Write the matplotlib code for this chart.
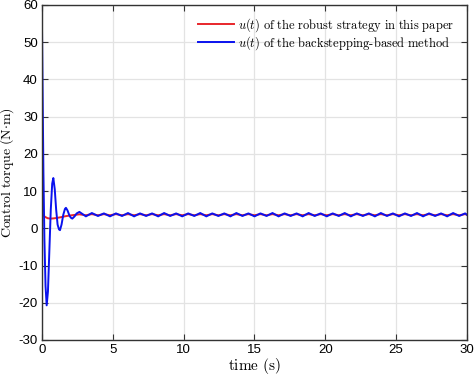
import matplotlib.pyplot as plt
import numpy as np

plt.rcParams['mathtext.fontset'] = 'cm'
plt.rcParams['font.family'] = ['Liberation Sans', 'DejaVu Sans']
plt.rcParams['axes.unicode_minus'] = False

# --- transient part (time s, torque N*m) ---
t_blue_start = [0.0, 0.04, 0.10, 0.17, 0.25, 0.33, 0.42, 0.52, 0.62, 0.72, 0.80, 0.90,
                1.00, 1.10, 1.20, 1.27, 1.38, 1.50, 1.62, 1.69, 1.80, 1.95, 2.05, 2.14,
                2.30, 2.45, 2.64]
u_blue_start = [54.0, 38.0, 15.0, -3.0, -15.5, -20.7, -17.0, -6.0, 5.0, 12.0, 13.5, 10.5,
                5.0, 1.0, -0.3, -0.5, 1.0, 3.6, 5.2, 5.5, 4.8, 3.3, 2.8, 2.6,
                3.2, 4.0, 4.4]

t_red_start = [0.0, 0.2, 0.4, 0.6, 0.8, 1.0, 1.3, 1.6, 1.9, 2.2, 2.64]
u_red_start = [3.9, 3.1, 2.7, 2.6, 2.65, 2.75, 2.95, 3.2, 3.4, 3.55, 3.75]

# --- steady ripple: extrema times and values ---
t_ripple = [3.10, 3.52, 3.95, 4.37, 4.80, 5.22, 5.65, 6.07, 6.50, 6.92, 7.35, 7.77,
            8.20, 8.62, 9.05, 9.47, 9.90, 10.32, 10.75, 11.17, 11.60, 12.02, 12.45,
            12.87, 13.30, 13.72, 14.15, 14.57, 15.00, 15.42, 15.85, 16.27, 16.70,
            17.12, 17.55, 17.97, 18.40, 18.82, 19.25, 19.67, 20.10, 20.52, 20.95,
            21.37, 21.80, 22.22, 22.65, 23.07, 23.50, 23.92, 24.35, 24.77, 25.20,
            25.62, 26.05, 26.47, 26.90, 27.32, 27.75, 28.17, 28.60, 29.02, 29.45,
            29.87, 30.0]
u_blue_ripple = [3.2, 4.1, 3.3, 4.0, 3.2, 4.0, 3.3, 4.1, 3.2, 4.0, 3.3, 4.0,
                 3.2, 4.1, 3.3, 4.0, 3.2, 4.0, 3.3, 4.1, 3.2, 4.0, 3.3, 4.0,
                 3.2, 4.1, 3.3, 4.0, 3.2, 4.0, 3.3, 4.1, 3.2, 4.0, 3.3, 4.0,
                 3.2, 4.1, 3.3, 4.0, 3.2, 4.0, 3.3, 4.1, 3.2, 4.0, 3.3, 4.0,
                 3.2, 4.1, 3.3, 4.0, 3.2, 4.0, 3.3, 4.1, 3.2, 4.0, 3.3, 4.0,
                 3.2, 4.1, 3.3, 4.0, 3.6]
u_red_ripple = [3.5, 3.8, 3.5, 3.8, 3.5, 3.8, 3.5, 3.8, 3.5, 3.8, 3.5, 3.8,
                3.5, 3.8, 3.5, 3.8, 3.5, 3.8, 3.5, 3.8, 3.5, 3.8, 3.5, 3.8,
                3.5, 3.8, 3.5, 3.8, 3.5, 3.8, 3.5, 3.8, 3.5, 3.8, 3.5, 3.8,
                3.5, 3.8, 3.5, 3.8, 3.5, 3.8, 3.5, 3.8, 3.5, 3.8, 3.5, 3.8,
                3.5, 3.8, 3.5, 3.8, 3.5, 3.8, 3.5, 3.8, 3.5, 3.8, 3.5, 3.8,
                3.5, 3.8, 3.5, 3.8, 3.65]

t_blue = np.array(t_blue_start + t_ripple)
u_blue = np.array(u_blue_start + u_blue_ripple)
t_red = np.array(t_red_start + t_ripple)
u_red = np.array(u_red_start + u_red_ripple)

fig = plt.figure(figsize=(4.74, 3.79), dpi=100)
ax = fig.add_axes([0.0886, 0.103, 0.8966, 0.884])

ax.plot(t_red, u_red, color='#e8262b', linewidth=1.4,
        label=r'$u(t)\ \mathrm{of\ the\ robust\ strategy\ in\ this\ paper}$')
ax.plot(t_blue, u_blue, color='#0a12ee', linewidth=1.4,
        label=r'$u(t)\ \mathrm{of\ the\ backstepping\text{-}based\ method}$')

ax.set_xlim(0, 30)
ax.set_ylim(-30, 60)
ax.set_xticks([0, 5, 10, 15, 20, 25, 30])
ax.set_yticks([-30, -20, -10, 0, 10, 20, 30, 40, 50, 60])
ax.grid(True, color='#e3e3e3', linewidth=0.9)
ax.tick_params(direction='in', top=True, right=True, labelsize=9.5, length=4,
               color='#333333', pad=3)
for s in ax.spines.values():
    s.set_color('#333333')
    s.set_linewidth(1.0)

ax.set_xlabel(r'$\mathrm{time\ (s)}$', fontsize=11, labelpad=0)
ax.set_ylabel(r'$\mathrm{Control\ torque\ (N{\cdot}m)}$', fontsize=10, labelpad=0)
ax.yaxis.set_label_coords(-0.061, 0.5)

ax.legend(loc='upper right', bbox_to_anchor=(0.995, 1.0), frameon=False,
          fontsize=9, handlelength=2.9, handletextpad=0.3, labelspacing=0.0)

plt.savefig('out.png', dpi=100)
